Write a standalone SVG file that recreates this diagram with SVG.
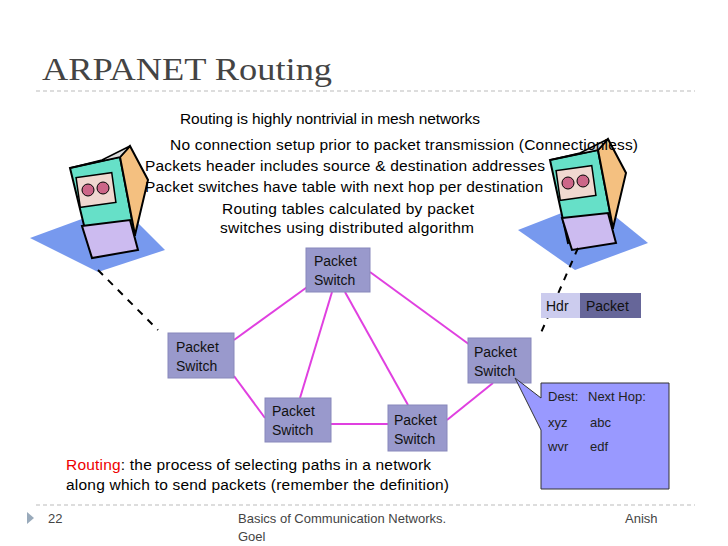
<svg xmlns="http://www.w3.org/2000/svg" width="728" height="546" viewBox="0 0 728 546">
<style>
text{font-family:"Liberation Sans",Arial,sans-serif;fill:#000}
.t{font-size:15.5px}
.sw{fill:#9999cc;stroke:#8888bb;stroke-width:1}
.st{font-size:14px;fill:#111}
.pk{stroke:#e040e0;stroke-width:2;fill:none}
.dash{stroke:#000;stroke-width:2;stroke-dasharray:7 7;fill:none}
.sep{stroke:#bbb;stroke-width:1;stroke-dasharray:4 3}
.tb{font-size:13px;fill:#222}
</style>
<rect width="728" height="546" fill="#fff"/>
<text x="42" y="80" textLength="290" lengthAdjust="spacingAndGlyphs" style="font-family:'Liberation Serif',serif;font-size:32px;fill:#444">ARPANET Routing</text>
<line class="sep" x1="36" y1="91" x2="695" y2="91"/>
<g id="computer-left">
<path d="M30 238 L120 205 L165 250 L98 272 Z" fill="#7799ee"/>
<path d="M70 168 L120 157 L135 235 L90 250 Z" fill="#66e0c8" stroke="#000" stroke-width="2"/>
<path d="M120 157 L130 146 L148 180 L135 235 Z" fill="#f4c080" stroke="#000" stroke-width="2"/>
<path d="M70 168 L102 160 L130 146 L120 157 Z" fill="#ddd" stroke="#000" stroke-width="1.5"/>
<rect x="78" y="175" width="36" height="30" fill="#f0d8d0" stroke="#000" stroke-width="1.5" transform="rotate(-8 96 190)"/>
<circle cx="88" cy="190" r="6" fill="#cc6688" stroke="#000"/>
<circle cx="103" cy="188" r="6" fill="#cc6688" stroke="#000"/>
<path d="M82 226 L130 220 L138 250 L92 258 Z" fill="#ccbbf0" stroke="#000" stroke-width="2"/>
</g>
<g id="computer-right">
<path d="M518 230 L595 200 L648 243 L575 270 Z" fill="#7799ee"/>
<path d="M550 160 L598 150 L613 228 L568 243 Z" fill="#66e0c8" stroke="#000" stroke-width="2"/>
<path d="M598 150 L608 139 L626 173 L613 228 Z" fill="#f4c080" stroke="#000" stroke-width="2"/>
<path d="M550 160 L580 153 L608 139 L598 150 Z" fill="#ddd" stroke="#000" stroke-width="1.5"/>
<rect x="558" y="168" width="36" height="30" fill="#f0d8d0" stroke="#000" stroke-width="1.5" transform="rotate(-8 576 183)"/>
<circle cx="568" cy="183" r="6" fill="#cc6688" stroke="#000"/>
<circle cx="583" cy="181" r="6" fill="#cc6688" stroke="#000"/>
<path d="M562 218 L608 213 L616 243 L572 250 Z" fill="#ccbbf0" stroke="#000" stroke-width="2"/>
</g>
<g id="text-lines" class="t">
<text x="180" y="124" textLength="300">Routing is highly nontrivial in mesh networks</text>
<text x="170" y="150" textLength="468">No connection setup prior to packet transmission (Connectionless)</text>
<text x="145" y="171" textLength="400">Packets header includes source &amp; destination addresses</text>
<text x="145" y="192" textLength="398">Packet switches have table with next hop per destination</text>
<text x="222" y="214" textLength="252">Routing tables calculated by packet</text>
<text x="220" y="233" textLength="254">switches using distributed algorithm</text>
</g>
<g id="connectors">
<line class="pk" x1="310" y1="285" x2="234" y2="340"/>
<line class="pk" x1="370" y1="272" x2="470" y2="345"/>
<line class="pk" x1="332" y1="292" x2="300" y2="398"/>
<line class="pk" x1="345" y1="292" x2="408" y2="405"/>
<line class="pk" x1="234" y1="376" x2="265" y2="418"/>
<line class="pk" x1="331" y1="424" x2="388" y2="424" stroke-width="3"/>
<line class="pk" x1="447" y1="420" x2="493" y2="383"/>
<path class="dash" d="M98 270 L158 330"/>
<path class="dash" d="M578 248 L540 335"/>
</g>
<g id="switch-top"><rect class="sw" x="306" y="248" width="64" height="44"/><text class="st" x="314" y="266">Packet</text><text class="st" x="314" y="285">Switch</text></g>
<g id="switch-left"><rect class="sw" x="168" y="333" width="66" height="45"/><text class="st" x="176" y="352">Packet</text><text class="st" x="176" y="371">Switch</text></g>
<g id="switch-bl"><rect class="sw" x="265" y="398" width="66" height="44"/><text class="st" x="272" y="416">Packet</text><text class="st" x="272" y="435">Switch</text></g>
<g id="switch-bm"><rect class="sw" x="388" y="405" width="59" height="46"/><text class="st" x="394" y="425">Packet</text><text class="st" x="394" y="444">Switch</text></g>
<g id="switch-right"><rect class="sw" x="468" y="338" width="63" height="45"/><text class="st" x="474" y="357">Packet</text><text class="st" x="474" y="376">Switch</text></g>
<g id="packet">
<rect x="541" y="293" width="39" height="25" fill="#ccccee"/>
<rect x="580" y="293" width="61" height="25" fill="#666699"/>
<text class="st" x="546" y="311">Hdr</text><text class="st" x="586" y="311">Packet</text>
</g>
<g id="table">
<path d="M541 383 L669 383 L669 489 L541 489 L541 430 L515 378 L541 398 Z" fill="#9999ff" stroke="#333" stroke-width="1"/>
<text class="tb" x="548" y="401">Dest:</text><text class="tb" x="588" y="401">Next Hop:</text>
<text class="tb" x="548" y="427">xyz</text><text class="tb" x="590" y="427">abc</text>
<text class="tb" x="548" y="451">wvr</text><text class="tb" x="590" y="451">edf</text>
</g>
<g id="definition" class="t">
<text x="66" y="470" textLength="365"><tspan fill="#ee0000">Routing</tspan>: the process of selecting paths in a network</text>
<text x="66" y="490" textLength="383">along which to send packets (remember the definition)</text>
</g>
<line class="sep" x1="36" y1="505" x2="695" y2="505"/>
<g id="footer">
<path d="M27 512 L34 518 L27 524 Z" fill="#9ab"/>
<text x="48" y="523" style="font-size:13px;fill:#444">22</text>
<text x="238" y="523" style="font-size:13px;fill:#444">Basics of Communication Networks.</text>
<text x="238" y="541" style="font-size:13px;fill:#444">Goel</text>
<text x="625" y="523" style="font-size:13px;fill:#444">Anish</text>
</g>
</svg>
